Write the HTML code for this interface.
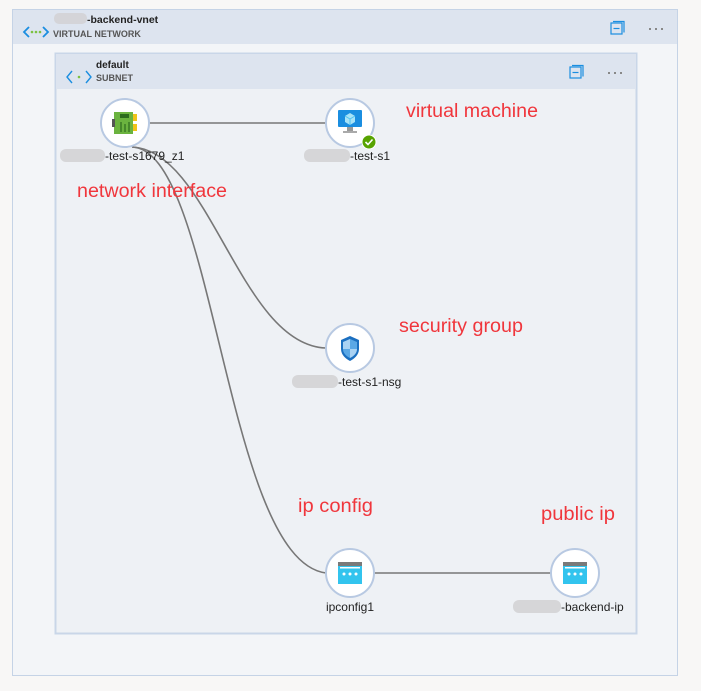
<!DOCTYPE html>
<html><head><meta charset="utf-8"><style>
html,body{margin:0;padding:0;background:#f8f7f6;}
svg{display:block;font-family:"Liberation Sans","Noto Sans CJK SC",sans-serif;}
</style></head><body>
<svg width="701" height="691" viewBox="0 0 701 691" xmlns="http://www.w3.org/2000/svg">
<rect x="0" y="0" width="701" height="691" fill="#f8f7f6"/>
<rect x="12.5" y="9.5" width="665" height="666" fill="#f3f5f8" stroke="#c5d3e6"/>
<rect x="13" y="10" width="664" height="34" fill="#dde4ef"/>
<g stroke="#1b8ee0" stroke-width="1.8" fill="none"><path d="M29 27 L24 32 L29 37"/><path d="M43 27 L48 32 L43 37"/></g>
<circle cx="32" cy="32" r="1.3" fill="#7cc242"/><circle cx="36" cy="32" r="1.3" fill="#7cc242"/><circle cx="40" cy="32" r="1.3" fill="#7cc242"/>
<rect x="54" y="13" width="33" height="11" rx="5" fill="#d4d4d8"/>
<text x="87" y="23" font-size="10.5" font-weight="bold" fill="#222">-backend-vnet</text>
<text x="53" y="37" font-size="9" font-weight="bold" fill="#555">VIRTUAL NETWORK</text>
<g fill="none" stroke="#1b8ee0" stroke-width="1.2"><rect x="611" y="23" width="11" height="11"/><path d="M613 21.5 H624 V32.5"/><path d="M613.5 28.5 H619.5"/></g>
<g fill="#888"><rect x="649" y="28" width="2" height="2"/><rect x="655" y="28" width="2" height="2"/><rect x="661" y="28" width="2" height="2"/></g>
<rect x="55.5" y="53.5" width="581" height="580" fill="#eef1f5" stroke="#c9d6e8" stroke-width="2"/>
<rect x="56" y="54" width="580" height="35" fill="#dde4ef"/>
<g stroke="#1b8ee0" stroke-width="1.4" fill="none"><path d="M72 71 L67 77 L72 83"/><path d="M86 71 L91 77 L86 83"/></g>
<circle cx="79" cy="77" r="1.3" fill="#7cc242"/>
<text x="96" y="68" font-size="10" font-weight="bold" fill="#222">default</text>
<text x="96" y="81" font-size="9" font-weight="bold" fill="#555">SUBNET</text>
<g fill="none" stroke="#1b8ee0" stroke-width="1.2"><rect x="570" y="67" width="11" height="11"/><path d="M572 65.5 H583 V76.5"/><path d="M572.5 72.5 H578.5"/></g>
<g fill="#888"><rect x="608" y="72" width="2" height="2"/><rect x="614" y="72" width="2" height="2"/><rect x="620" y="72" width="2" height="2"/></g>
<g stroke="#777" stroke-width="1.6" fill="none">
<path d="M149 123 H326"/>
<path d="M132 147 C210 150 240 345 326 348"/>
<path d="M132 147 C215 150 225 560 326 573"/>
<path d="M374 573 H551"/>
</g>
<g fill="#fff" stroke="#b8c9e2" stroke-width="2">
<circle cx="125" cy="123" r="24"/><circle cx="350" cy="123" r="24"/><circle cx="350" cy="348" r="24"/><circle cx="350" cy="573" r="24"/><circle cx="575" cy="573" r="24"/>
</g>
<rect x="114" y="112" width="19" height="22" fill="#6bb33f"/><rect x="133" y="114" width="4" height="7" fill="#f0c419"/><rect x="133" y="124" width="4" height="7" fill="#f0c419"/>
<rect x="112" y="119" width="3" height="8" fill="#555"/><rect x="120" y="114" width="9" height="4" fill="#2d6b1e"/>
<path d="M121 122 V132 M125 124 V132 M129 122 V132" stroke="#2d6b1e" stroke-width="1.2"/>
<rect x="338" y="110" width="24" height="17" rx="1" fill="#1b8ee0"/><rect x="347" y="127" width="6" height="4" fill="#999"/><rect x="343" y="131" width="14" height="2" fill="#aaa"/>
<path d="M350 113 L355 116 V122 L350 125 L345 122 V116 Z" fill="#a8e3f7"/><path d="M350 119 L355 116 M350 119 L345 116 M350 119 V125" stroke="#50c0ef" stroke-width="1"/>
<circle cx="369" cy="142" r="7" fill="#57a300" stroke="#fff" stroke-width="1"/><path d="M365.5 142 L368 144.5 L372.5 139.5" stroke="#fff" stroke-width="1.6" fill="none"/>
<path d="M350 336 L359 340 V349 C359 355 354 359 350 361 C346 359 341 355 341 349 V340 Z" fill="#1b6fc0"/>
<path d="M350 339 L357 342 V349 H350 Z" fill="#5aa8e6"/><path d="M343 342 L350 339 V349 H343 Z" fill="#a9d2f3"/><path d="M343 349 H350 V358 C346 356 343 353 343 349Z" fill="#5aa8e6"/><path d="M350 349 H357 C357 353 354 356 350 358Z" fill="#a9d2f3"/>
<g><rect x="338" y="564" width="24" height="20" fill="#32c4ee"/><rect x="338" y="562" width="24" height="4" fill="#7a7a7a"/><rect x="340" y="567" width="20" height="1.5" fill="#fff"/>
<circle cx="344" cy="574" r="1.5" fill="#fff"/><circle cx="350" cy="574" r="1.5" fill="#fff"/><circle cx="356" cy="574" r="1.5" fill="#fff"/></g>
<g><rect x="563" y="564" width="24" height="20" fill="#32c4ee"/><rect x="563" y="562" width="24" height="4" fill="#7a7a7a"/><rect x="565" y="567" width="20" height="1.5" fill="#fff"/>
<circle cx="569" cy="574" r="1.5" fill="#fff"/><circle cx="575" cy="574" r="1.5" fill="#fff"/><circle cx="581" cy="574" r="1.5" fill="#fff"/></g>
<g font-size="12" fill="#222">
<rect x="60" y="149" width="45" height="13" rx="6" fill="#d6d6d8"/><text x="105" y="160">-test-s1679_z1</text>
<rect x="304" y="149" width="46" height="13" rx="6" fill="#d6d6d8"/><text x="350" y="160">-test-s1</text>
<rect x="292" y="375" width="46" height="13" rx="6" fill="#d6d6d8"/><text x="338" y="386">-test-s1-nsg</text>
<text x="350" y="611" text-anchor="middle">ipconfig1</text>
<rect x="513" y="600" width="48" height="13" rx="6" fill="#d6d6d8"/><text x="561" y="611">-backend-ip</text>
</g>
<g font-size="19" fill="#f0363c">
<text x="77" y="197" textLength="150" lengthAdjust="spacingAndGlyphs">network interface</text>
<text x="406" y="117" textLength="132" lengthAdjust="spacingAndGlyphs">virtual machine</text>
<text x="399" y="332" textLength="124" lengthAdjust="spacingAndGlyphs">security group</text>
<text x="298" y="512" textLength="75" lengthAdjust="spacingAndGlyphs">ip config</text>
<text x="541" y="520" textLength="74" lengthAdjust="spacingAndGlyphs">public ip</text>
</g>
</svg>
</body></html>
